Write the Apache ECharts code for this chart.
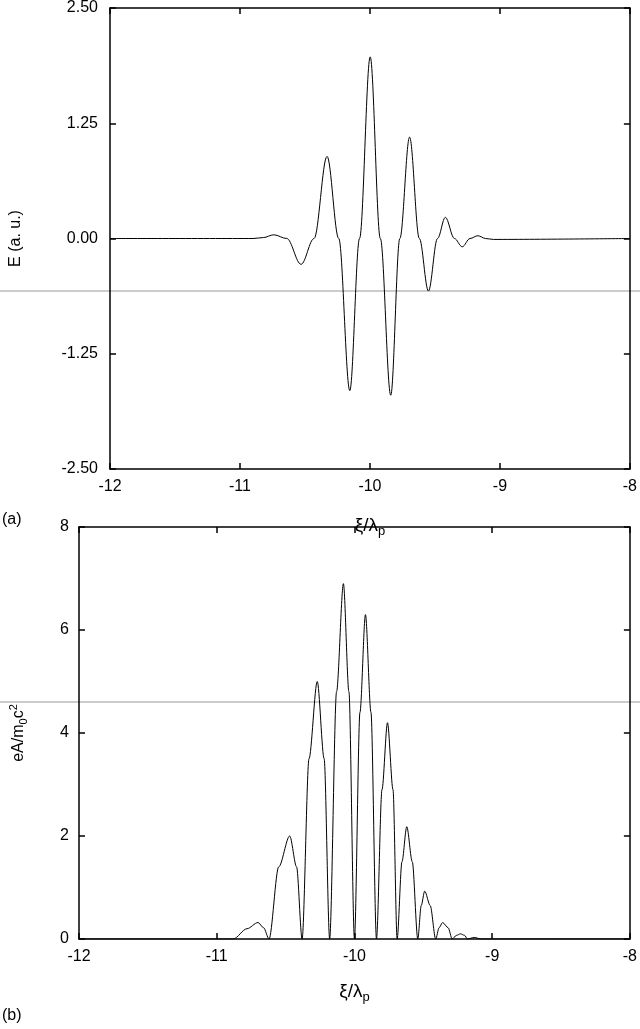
<!DOCTYPE html>
<html><head><meta charset="utf-8">
<script src="https://cdn.jsdelivr.net/npm/echarts@6/dist/echarts.min.js"></script>
<style>html,body{margin:0;background:#fff}#c{width:640px;height:1029px}</style>
</head><body><div id="c"></div>
<script>
// panel (a): electric field, peaks and zero crossings
var fieldX = [-12, -10.9, -10.82, -10.74, -10.64, -10.53, -10.43, -10.33, -10.24, -10.155, -10.08, -9.998, -9.92, -9.84, -9.77, -9.695, -9.62, -9.55, -9.48, -9.42, -9.35, -9.29, -9.23, -9.17, -9.11, -9.05, -8];
var fieldY = [0, 0, 0.01, 0.04, 0, -0.28, 0, 0.89, 0, -1.65, 0, 1.97, 0, -1.70, 0, 1.10, 0, -0.57, 0, 0.23, 0, -0.09, 0, 0.03, 0, -0.01, 0];
// panel (b): vector potential humps
var potX = [-12, -10.88, -10.78, -10.70, -10.66, -10.62, -10.55, -10.47, -10.42, -10.38, -10.33, -10.27, -10.22, -10.18, -10.13, -10.08, -10.04, -10.0, -9.96, -9.92, -9.88, -9.84, -9.80, -9.76, -9.72, -9.69, -9.655, -9.62, -9.58, -9.54, -9.515, -9.49, -9.45, -9.41, -9.385, -9.36, -9.32, -9.29, -9.26, -9.23, -9.2, -9.18, -9.13, -9.08, -8];
var potY = [0, 0, 0.2, 0.32, 0.22, 0, 1.4, 2.0, 1.4, 0, 3.5, 5.0, 3.5, 0, 4.8, 6.9, 4.8, 0, 4.4, 6.3, 4.4, 0, 2.9, 4.2, 2.9, 0, 1.5, 2.18, 1.5, 0, 0.65, 0.93, 0.65, 0, 0.22, 0.32, 0.22, 0, 0.07, 0.1, 0.07, 0, 0.03, 0, 0];

function pairs(xs, ys) { return xs.map(function (x, i) { return [x, ys[i]]; }); }

var font = 'Liberation Sans, Arial, sans-serif';
var black = '#000';
function xAx(gi, show) {
  return {
    gridIndex: gi, type: 'value', min: -12, max: -8, interval: 1,
    position: show ? 'bottom' : 'top',
    axisLine: { show: true, onZero: false, lineStyle: { color: black, width: 1.5 } },
    axisTick: { show: true, inside: true, length: 6, lineStyle: { color: black, width: 1.5 } },
    axisLabel: { show: show, color: black, fontSize: 16, fontFamily: font, margin: 10 },
    splitLine: { show: false }
  };
}
function yRight(gi, min, max, step) {
  return { gridIndex: gi, type: 'value', min: min, max: max, interval: step, position: 'right',
    axisLine: { show: true, lineStyle: { color: black, width: 1.5 } },
    axisTick: { inside: true, length: 6, lineStyle: { color: black, width: 1.5 } },
    axisLabel: { show: false }, splitLine: { show: false } };
}
var chart = echarts.init(document.getElementById('c'));
var xname = '{n|ξ/λ}{s|p}';
var rich = { n: { fontSize: 19, fontFamily: font, color: black }, s: { fontSize: 13, fontFamily: font, color: black, padding: [12, 0, 0, 0] } };
chart.setOption({
  animation: false,
  grid: [
    { left: 104, right: 10, top: 7, height: 462 },
    { left: 78, right: 9, top: 527, height: 412 }
  ],
  xAxis: [
    Object.assign(xAx(0, true), { name: xname, nameLocation: 'middle', nameGap: 44, nameTextStyle: { rich: rich } }),
    xAx(0, false),
    Object.assign(xAx(1, true), { name: xname, nameLocation: 'middle', nameGap: 40, nameTextStyle: { rich: rich } }),
    xAx(1, false)
  ],
  yAxis: [
    { gridIndex: 0, type: 'value', min: -2.5, max: 2.5, interval: 1.25,
      name: 'E (a. u.)', nameLocation: 'middle', nameGap: 86, nameTextStyle: { fontSize: 16, fontFamily: font, color: black },
      axisLine: { show: true, lineStyle: { color: black, width: 1.5 } },
      axisTick: { inside: true, length: 6, lineStyle: { color: black, width: 1.5 } },
      axisLabel: { color: black, fontSize: 16, fontFamily: font, margin: 12, formatter: function (v) { return v.toFixed(2); } },
      splitLine: { show: false } },
    yRight(0, -2.5, 2.5, 1.25),
    { gridIndex: 1, type: 'value', min: 0, max: 8, interval: 2,
      name: '{n|eA/m}{s|0}{n|c}{u|2}', nameLocation: 'middle', nameGap: 50, nameTextStyle: { rich: { n: { fontSize: 16, fontFamily: font, color: black }, s: { fontSize: 11, fontFamily: font, color: black, padding: [10, 0, 0, 0] }, u: { fontSize: 11, fontFamily: font, color: black, padding: [0, 0, 10, 0] } } },
      axisLine: { show: true, lineStyle: { color: black, width: 1.5 } },
      axisTick: { inside: true, length: 6, lineStyle: { color: black, width: 1.5 } },
      axisLabel: { color: black, fontSize: 16, fontFamily: font, margin: 10 },
      splitLine: { show: false } },
    yRight(1, 0, 8, 2)
  ],
  series: [
    { type: 'line', xAxisIndex: 0, yAxisIndex: 0, data: pairs(fieldX, fieldY), smooth: 0.35, smoothMonotone: 'x', showSymbol: false, lineStyle: { color: black, width: 1 } },
    { type: 'line', xAxisIndex: 2, yAxisIndex: 2, data: pairs(potX, potY), smooth: 0.3, smoothMonotone: 'x', showSymbol: false, lineStyle: { color: black, width: 1 } }
  ],
  graphic: [
    { type: 'line', shape: { x1: 0, y1: 291, x2: 640, y2: 291 }, style: { stroke: '#999', lineWidth: 1 } },
    { type: 'line', shape: { x1: 0, y1: 702, x2: 640, y2: 702 }, style: { stroke: '#999', lineWidth: 1 } },
    { type: 'text', left: 2, top: 512, style: { text: '(a)', fontSize: 16, fontFamily: font, fill: black } },
    { type: 'text', left: 2, top: 1008, style: { text: '(b)', fontSize: 16, fontFamily: font, fill: black } }
  ]
});
</script></body></html>
